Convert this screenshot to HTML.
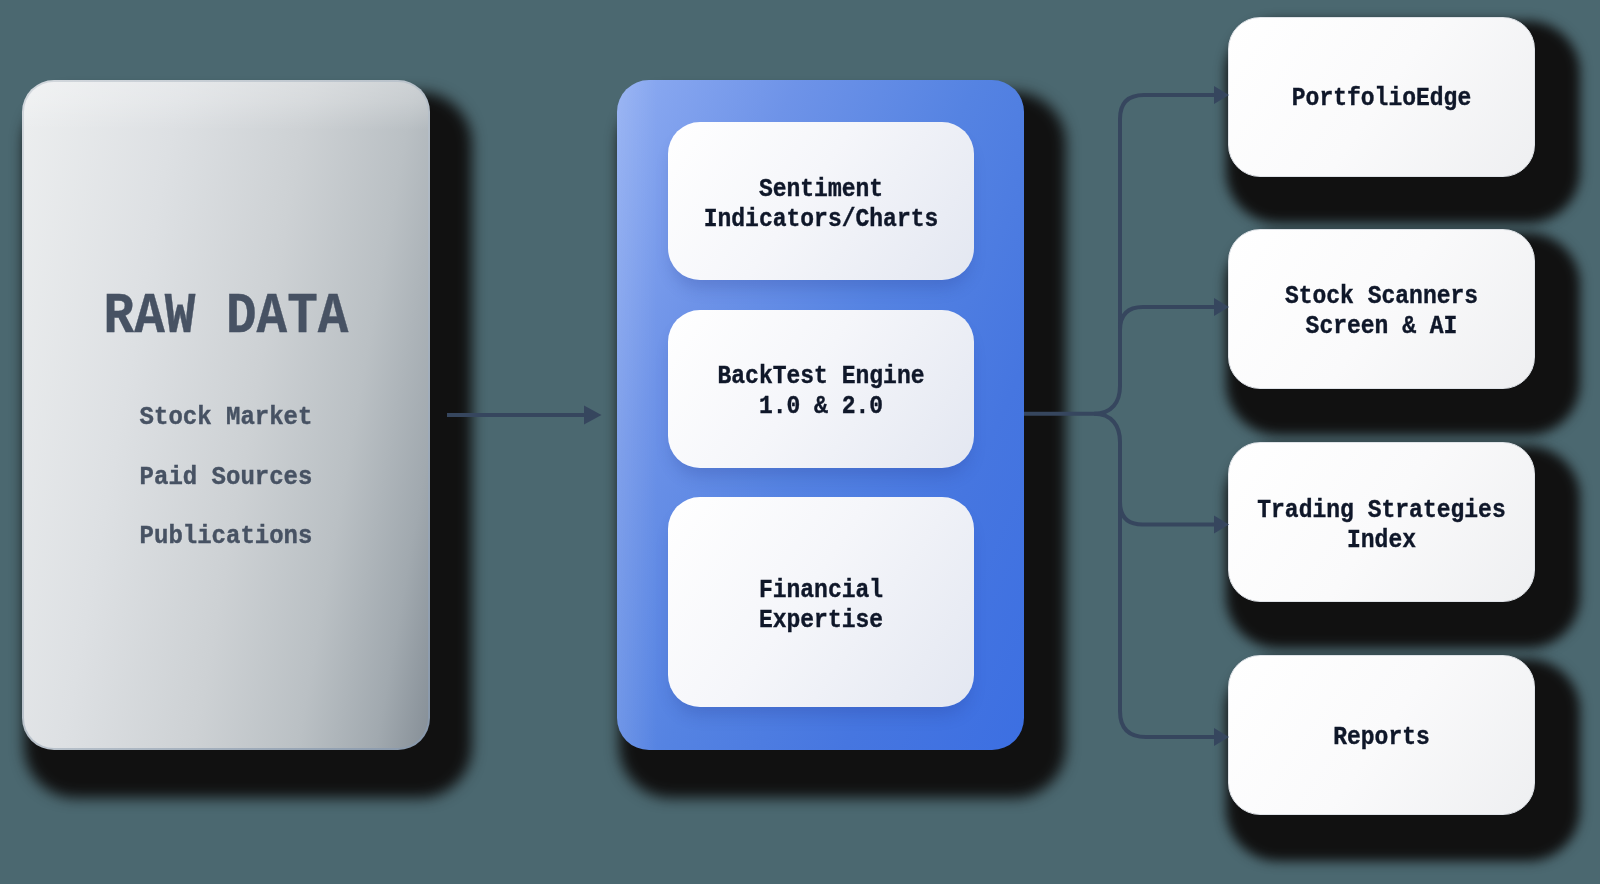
<!DOCTYPE html>
<html><head><meta charset="utf-8">
<style>
html,body{margin:0;padding:0;}
body{width:1600px;height:884px;overflow:hidden;background:#4b6870;position:relative;font-family:"Liberation Mono",monospace;font-weight:bold;}
.abs,.sh{position:absolute;}
.raw{left:22px;top:80px;width:408px;height:670px;border-radius:32px;box-sizing:border-box;border:2px solid transparent;
background:linear-gradient(180deg,rgba(255,255,255,.28) 0px,rgba(255,255,255,.2) 20px,rgba(255,255,255,0) 48px) padding-box,linear-gradient(100deg,#eceeef 0%,#dde0e3 30%,#cdd1d4 55%,#bac0c4 75%,#a1a9af 90%,#868f97 100%) padding-box,linear-gradient(120deg,#d3d8dd 0%,#b9c2cb 50%,#8797aa 100%) border-box;}
.blue{left:617px;top:80px;width:407px;height:670px;border-radius:32px;
background:linear-gradient(90deg,rgba(255,255,255,.12) 0px,rgba(255,255,255,0) 40px),linear-gradient(115deg,#8eacf2 0%,#6e93e8 25%,#5583e2 50%,#4676e0 75%,#3c6fe2 100%);}
.inner{left:668px;width:306px;border-radius:32px;
background:linear-gradient(125deg,#ffffff 0%,#f5f6fa 45%,#e3e7f1 100%);
box-shadow:0 12px 16px -4px rgba(30,50,130,0.22);}
.rc{left:1228px;width:307px;height:160px;border-radius:32px;box-sizing:border-box;border:1px solid #dfe3e8;
background:linear-gradient(125deg,#ffffff 0%,#fafafb 50%,#eeeff1 100%);}
.t{position:absolute;white-space:pre;text-align:center;-webkit-text-stroke:0.35px currentColor;}
</style></head><body>
<div class="sh" style="left:24px;top:92px;width:448px;height:706px;border-radius:52px;filter:blur(7px);background:#111"></div>
<div class="sh" style="left:619px;top:92px;width:447px;height:706px;border-radius:52px;filter:blur(7px);background:#111"></div>
<div class="sh" style="left:1226px;top:21px;width:354px;height:202px;border-radius:52px;filter:blur(6px);background:#111"></div>
<div class="sh" style="left:1226px;top:233px;width:354px;height:202px;border-radius:52px;filter:blur(6px);background:#111"></div>
<div class="sh" style="left:1226px;top:446px;width:354px;height:202px;border-radius:52px;filter:blur(6px);background:#111"></div>
<div class="sh" style="left:1226px;top:659px;width:354px;height:202px;border-radius:52px;filter:blur(6px);background:#111"></div>
<div class="abs raw"></div>
<div class="abs blue"></div>
<div class="abs inner" style="top:122px;height:158px"></div>
<div class="abs inner" style="top:310px;height:158px"></div>
<div class="abs inner" style="top:497px;height:210px"></div>
<div class="abs rc" style="top:17px"></div>
<div class="abs rc" style="top:229px"></div>
<div class="abs rc" style="top:442px"></div>
<div class="abs rc" style="top:655px"></div>
<svg class="abs" style="left:0;top:0" width="1600" height="884" viewBox="0 0 1600 884">
<g fill="none" stroke="#36465e" stroke-width="4">
<path d="M447 415 H586"/>
<path d="M1024 413.8 H1094"/>
<path d="M1094 413.8 C1112 413.8 1120 402 1120 386 V119 Q1120 95 1144 95 H1215"/>
<path d="M1094 413.8 C1112 413.8 1120 426 1120 442 V711 Q1120 737 1146 737 H1215"/>
<path d="M1120 330 Q1120 307 1143 307 H1215"/>
<path d="M1120 502 Q1120 524.5 1142.5 524.5 H1215"/>
</g>
<g fill="#36465e">
<path d="M584 405.5 L601.5 415 L584 424.5 Z"/>
<path d="M1214 86 L1229 95 L1214 104 Z"/>
<path d="M1214 298 L1229 307 L1214 316 Z"/>
<path d="M1214 515.5 L1229 524.5 L1214 533.5 Z"/>
<path d="M1214 728 L1229 737 L1214 746 Z"/>
</g>
</svg>
<div class="t" style="left:22px;width:408px;top:284px;font-size:51px;line-height:60px;color:#475263;transform:scaleY(1.12);transform-origin:50% 0">RAW DATA</div>
<div class="t" style="left:22px;width:408px;top:401px;font-size:24px;line-height:30px;color:#475263;transform:scaleY(1.1);transform-origin:50% 0">Stock Market</div>
<div class="t" style="left:22px;width:408px;top:461px;font-size:24px;line-height:30px;color:#475263;transform:scaleY(1.1);transform-origin:50% 0">Paid Sources</div>
<div class="t" style="left:22px;width:408px;top:520px;font-size:24px;line-height:30px;color:#475263;transform:scaleY(1.1);transform-origin:50% 0">Publications</div>
<div class="t" style="left:668px;width:306px;top:175px;font-size:23px;line-height:27px;color:#0f1729;transform:scaleY(1.1);transform-origin:50% 0">Sentiment
Indicators/Charts</div>
<div class="t" style="left:668px;width:306px;top:362px;font-size:23px;line-height:27px;color:#0f1729;transform:scaleY(1.1);transform-origin:50% 0">BackTest Engine
1.0 &amp; 2.0</div>
<div class="t" style="left:668px;width:306px;top:576px;font-size:23px;line-height:27px;color:#0f1729;transform:scaleY(1.1);transform-origin:50% 0">Financial
Expertise</div>
<div class="t" style="left:1228px;width:307px;top:84px;font-size:23px;line-height:27px;color:#0f1729;transform:scaleY(1.1);transform-origin:50% 0">PortfolioEdge</div>
<div class="t" style="left:1228px;width:307px;top:282px;font-size:23px;line-height:27px;color:#0f1729;transform:scaleY(1.1);transform-origin:50% 0">Stock Scanners
Screen &amp; AI</div>
<div class="t" style="left:1228px;width:307px;top:496px;font-size:23px;line-height:27px;color:#0f1729;transform:scaleY(1.1);transform-origin:50% 0">Trading Strategies
Index</div>
<div class="t" style="left:1228px;width:307px;top:723px;font-size:23px;line-height:27px;color:#0f1729;transform:scaleY(1.1);transform-origin:50% 0">Reports</div>
</body></html>
